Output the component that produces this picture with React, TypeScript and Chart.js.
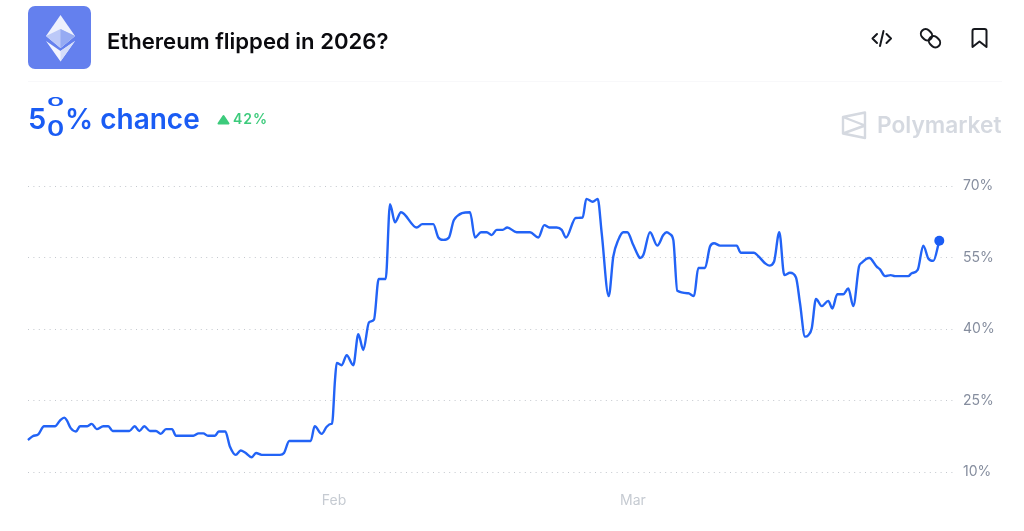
import React, { useEffect, useRef } from "react";
import { Chart, registerables } from "chart.js";

Chart.register(...registerables);

// x positions are sample steps along the time axis (Feb starts at step 306, Mar at step 605)
const steps = [
  0, 4.7, 10.3, 16, 27, 32, 36.3, 38.7, 42.7, 48, 52, 59.3, 63.7, 68.7, 75.3, 80.3, 84.7, 101.3, 106.7, 111.3, 116.3, 122, 128, 132.7, 138, 144, 148, 165.3, 170.7, 175.3, 180, 187, 190.7, 197.3, 202, 207.7, 212.7, 217, 223.7, 228, 233.7, 252, 256, 261.3, 282.7, 286.7, 293.7, 298.7, 303.3,
  304, 307, 308.7, 313.7, 318.7, 325.3, 330.3, 335.3, 341, 346, 350.7, 357.7, 362, 367, 373, 388.7, 394.3, 405.3, 410.3, 415.3, 421, 426, 442, 447, 453, 458.7, 463.7, 468.7, 474.7, 479.3, 488.7, 502, 510.3, 516.3, 521.3, 528.7, 533.7, 538, 547.7, 554.7, 558.3, 564.7, 569.7, 573.7, 580.7, 585.3, 590.3, 595.3, 599.3, 605.3, 611.3,
  612, 615.3, 622, 629.3, 635.3, 638.7, 642, 645.3, 649.3, 660.3, 666, 670.3, 677, 682, 686, 692, 708.7, 712.7, 726, 730.3, 737, 741.3, 746, 751.3, 756.3, 762, 768, 772, 777, 780.3, 783.7, 788, 793.7, 800.3, 804.3, 809.3, 815.3, 820.3, 825.3, 831, 833.7, 841.3, 848.7, 852, 857, 862.7, 867, 880.3, 883.7, 889.7, 895.3, 900.3, 905.3, 911.3,
];
const chanceValues = [
  16.7, 17.5, 17.9, 19.6, 19.6, 20.8, 21.4, 20.9, 19.2, 18.5, 19.6, 19.6, 20.1, 19.0, 19.6, 19.6, 18.6, 18.6, 19.6, 18.6, 19.6, 18.6, 18.6, 18.0, 19.0, 19.0, 17.6, 17.6, 18.1, 18.1, 17.6, 17.6, 18.5, 18.5, 15.3, 13.6, 14.5, 14.1, 13.1, 14.0, 13.6, 13.6, 14.0, 16.5, 16.5, 19.6, 18.0, 19.5, 20.1,
  20.1, 29.3, 32.9, 32.4, 34.5, 32.4, 38.9, 35.6, 41.4, 42.0, 50.5, 50.5, 66.2, 62.4, 64.5, 61.3, 62.0, 62.0, 59.2, 58.7, 59.2, 62.9, 64.5, 59.2, 60.3, 60.3, 59.7, 60.8, 60.8, 61.3, 60.3, 60.3, 59.2, 61.8, 61.3, 61.3, 60.8, 59.2, 63.3, 63.4, 67.3, 66.7, 67.3, 60.1, 46.9, 55.2, 58.7, 60.3, 60.3, 57.6, 55.0,
  54.9, 55.5, 60.3, 57.5, 59.7, 60.3, 59.9, 58.7, 48.0, 47.5, 46.9, 52.8, 52.8, 57.3, 58.0, 57.5, 57.5, 56.0, 56.0, 55.3, 53.8, 53.3, 54.1, 60.3, 51.3, 51.8, 50.8, 45.4, 38.4, 38.7, 40.1, 46.3, 44.8, 45.9, 44.3, 47.3, 47.3, 48.5, 44.8, 53.1, 53.9, 54.9, 53.1, 52.5, 51.1, 51.3, 51.1, 51.1, 51.7, 52.4, 57.5, 54.8, 54.3, 58.5,
];
const yTicks = [10, 25, 40, 55, 70];
const xTickSteps = [306, 605];
const xTickLabels = ["Feb", "Mar"];

const FONT = "Inter, 'Open Sans', sans-serif";
const BLUE = "#1A5CF4";

export default function App() {
  const ref = useRef<HTMLCanvasElement>(null);

  useEffect(() => {
    document.body.style.margin = "0";
    document.body.style.background = "#fff";
    const chart = new Chart(ref.current!, {
      type: "line",
      data: {
        datasets: [
          {
            data: steps.map((x, i) => ({ x, y: chanceValues[i] })),
            borderColor: "#2263F6",
            backgroundColor: BLUE,
            borderWidth: 2.4,
            cubicInterpolationMode: "monotone",
            pointRadius: (c: any) => (c.dataIndex === steps.length - 1 ? 5 : 0),
            pointHoverRadius: 5,
            pointBorderWidth: 0,
            clip: false,
          },
        ],
      },
      options: {
        animation: false,
        responsive: false,
        layout: { padding: { left: 28, top: 186, right: 0, bottom: 0 } },
        plugins: { legend: { display: false }, tooltip: { enabled: false } },
        scales: {
          x: {
            type: "linear",
            min: 0,
            max: 925,
            afterBuildTicks: (s: any) => {
              s.ticks = xTickSteps.map((value) => ({ value }));
            },
            afterFit: (s: any) => {
              s.height = 59;
            },
            grid: { display: false, drawTicks: false },
            border: { display: false },
            ticks: {
              autoSkip: false,
              maxRotation: 0,
              padding: 20,
              color: "#C6CBD2",
              font: { family: FONT, size: 14 },
              callback: (v: any) => xTickLabels[xTickSteps.indexOf(v)],
            },
          },
          y: {
            position: "right",
            min: 10,
            max: 70,
            afterBuildTicks: (s: any) => {
              s.ticks = yTicks.map((value) => ({ value }));
            },
            afterFit: (s: any) => {
              s.width = 71;
            },
            grid: { color: "#C4C8CE", lineWidth: 1, drawTicks: false },
            border: { display: false, dash: [1, 4.4] },
            ticks: {
              padding: 10,
              color: "#858D9E",
              font: { family: FONT, size: 14 },
              callback: (v: any) => `${v}%`,
            },
          },
        },
      },
    } as any);
    return () => chart.destroy();
  }, []);

  return (
    <div style={{ position: "relative", width: 1024, height: 531, overflow: "hidden", fontFamily: FONT, background: "#fff" }}>
      <canvas ref={ref} width={1024} height={531} style={{ position: "absolute", left: 0, top: 0, width: 1024, height: 531 }} />

      {/* logo */}
      <div style={{ position: "absolute", left: 28, top: 6, width: 63, height: 63, borderRadius: 7, background: "#6480EE" }}>
        <svg width="63" height="63" viewBox="0 0 63 63">
          <polygon points="32.5,9 47,30 32.5,42 18,30" fill="#EEF1FD" />
          <polygon points="32.5,23 47,30 32.5,42 18,30" fill="#BCC9F8" />
          <polygon points="32.5,23 47,30 32.5,42" fill="#96ABF3" />
          <polygon points="18,35 32.5,45 47,35 32.5,55.5" fill="#F3F5FE" />
          <polygon points="32.5,45 47,35 32.5,55.5" fill="#D5DDFA" />
        </svg>
      </div>
      <div style={{ position: "absolute", left: 107, top: 26, fontSize: 22.1, lineHeight: "30px", fontWeight: 600, color: "#0B0B0F", whiteSpace: "nowrap" }}>
        Ethereum flipped in 2026?
      </div>

      {/* action icons */}
      <svg style={{ position: "absolute", left: 868, top: 25, overflow: "visible" }} width="130" height="26" viewBox="0 0 130 26" fill="none" stroke="#16181D" strokeWidth="2" strokeLinecap="round" strokeLinejoin="round">
        <path d="M9 9 L4.5 13.5 L9 18 M18.5 9 L23 13.5 L18.5 18 M15.5 6 L12 21" />
        <rect x="52.5" y="5" width="12" height="9.5" rx="4.75" transform="rotate(45 58.5 9.75)" />
        <rect x="60.5" y="12" width="12" height="9.5" rx="4.75" transform="rotate(45 66.5 16.75)" />
        <path d="M104.5 6 Q104.5 4 106.5 4 L116.5 4 Q118.5 4 118.5 6 L118.5 22 L111.5 16.5 L104.5 22 Z" />
      </svg>

      {/* separator */}
      <div style={{ position: "absolute", left: 28, top: 81, width: 974, height: 1, background: "#F8F8FA" }} />

      {/* headline */}
      <div style={{ position: "absolute", left: 28, top: 100, color: BLUE, fontSize: 29, lineHeight: "38px", fontWeight: 600, whiteSpace: "nowrap" }}>5</div>
      <div style={{ position: "absolute", left: 46, top: 83, width: 19, color: BLUE, fontSize: 29, lineHeight: "38px", fontWeight: 600, textAlign: "center", transform: "scale(0.9,0.42)" }}>0</div>
      <div style={{ position: "absolute", left: 46, top: 110, width: 19, color: BLUE, fontSize: 29, lineHeight: "38px", fontWeight: 600, textAlign: "center", transform: "scale(0.9,0.72)" }}>0</div>
      <div style={{ position: "absolute", left: 65, top: 100, color: BLUE, fontSize: 28, lineHeight: "38px", fontWeight: 600, whiteSpace: "nowrap" }}>% chance</div>

      <svg style={{ position: "absolute", left: 217, top: 114 }} width="13" height="11" viewBox="0 0 13 11">
        <path d="M6.5 2 L11.5 9.5 L1.5 9.5 Z" fill="#3DCB7C" stroke="#3DCB7C" strokeWidth="2" strokeLinejoin="round" />
      </svg>
      <div style={{ position: "absolute", left: 233, top: 109, color: "#3DCB7C", fontSize: 14, lineHeight: "20px", fontWeight: 600, letterSpacing: 1, whiteSpace: "nowrap" }}>42%</div>

      {/* watermark */}
      <svg style={{ position: "absolute", left: 841, top: 111 }} width="26" height="29" viewBox="0 0 26 29" fill="none" stroke="#D5D9E0" strokeWidth="2.4" strokeLinejoin="round">
        <path d="M2 6 L24 1.5 L24 27 L2 22.5 Z M2 6 L24 14.5 L2 22.5" />
      </svg>
      <div style={{ position: "absolute", left: 877, top: 110, color: "#D5D9E0", fontSize: 22.7, lineHeight: "30px", fontWeight: 600, whiteSpace: "nowrap" }}>Polymarket</div>
    </div>
  );
}
